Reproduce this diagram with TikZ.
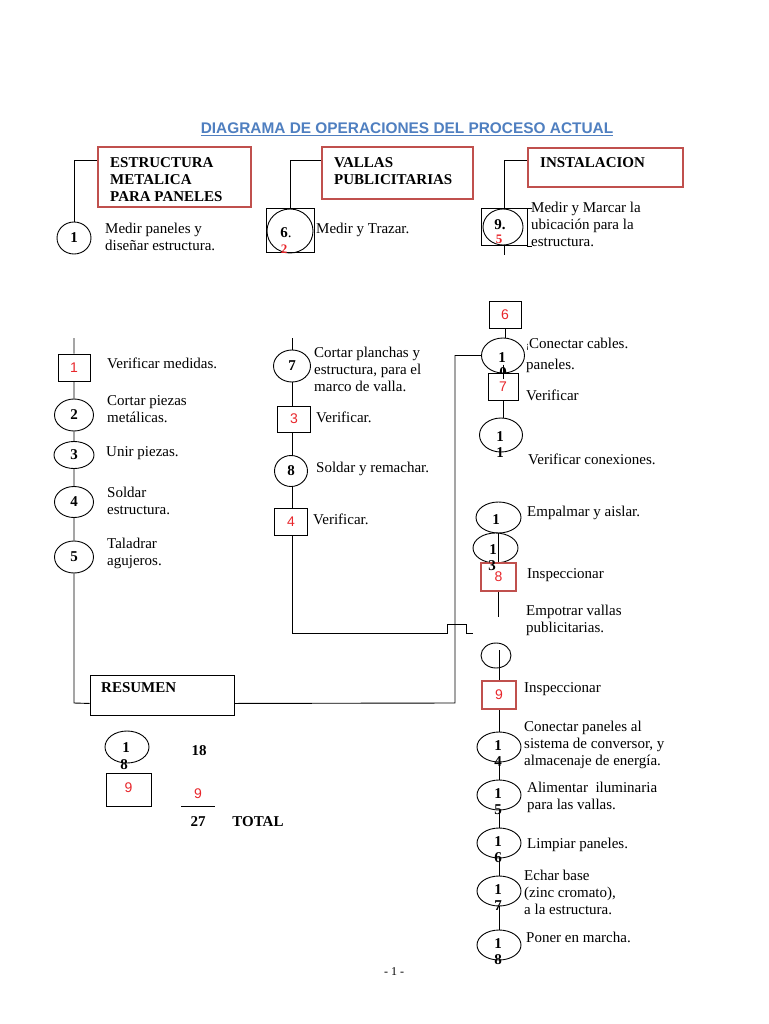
\documentclass[tikz,border=0pt]{standalone}
\usepackage{fontspec}
\setmainfont{Liberation Serif}
\newfontfamily\arialf{Liberation Sans}
\usetikzlibrary{shapes.geometric}
\definecolor{hdrred}{HTML}{C0504D}
\definecolor{numred}{HTML}{E8262B}
\definecolor{ttlblue}{HTML}{4F7FC0}
\begin{document}
\begin{tikzpicture}[x=1pt,y=-1pt,
  every node/.style={inner sep=0pt},
  ln/.style={line width=0.9pt},
  op/.style={ellipse, draw, line width=0.9pt, font=\bfseries\fontsize{15}{15}\selectfont},
  insp/.style={rectangle, draw, line width=0.9pt, minimum width=32pt, minimum height=27pt, font=\arialf\fontsize{14}{14}\selectfont, text=numred},
  inspr/.style={insp, draw=hdrred, line width=2.6pt},
  hbox/.style={rectangle, draw=hdrred, line width=2.6pt},
  htxt/.style={anchor=north west, align=left, font=\bfseries\fontsize{15}{17}\selectfont},
  lbl/.style={anchor=north west, align=left, font=\fontsize{15}{17}\selectfont},
  num/.style={font=\bfseries\fontsize{15}{15}\selectfont},
  rnum/.style={font=\bfseries\fontsize{13}{13}\selectfont, text=numred},
]
\useasboundingbox (0,0) rectangle (768,1024);
\fill[white] (0,0) rectangle (768,1024);

% title
\node[font=\arialf\bfseries\fontsize{15.4}{15.4}\selectfont, text=ttlblue] (title) at (407,128) {DIAGRAMA DE OPERACIONES DEL PROCESO ACTUAL};
\draw[ttlblue, line width=1.2pt] ([yshift=-2.5pt]title.base west) -- ([yshift=-2.5pt]title.base east);

% header boxes
\node[hbox, minimum width=153pt, minimum height=60pt] (h1) at (174.5,177) {};
\node[htxt] (h1t) at (110,155) {\strut ESTRUCTURA\\METALICA\\PARA PANELES};
\node[hbox, minimum width=151pt, minimum height=52pt] (h2) at (397.5,173) {};
\node[htxt] (h2t) at (334,155) {\strut VALLAS\\PUBLICITARIAS};
\node[hbox, minimum width=155pt, minimum height=39pt] (h3) at (605.5,167.5) {};
\node[htxt] (h3t) at (540,155) {\strut INSTALACION};

% first row
\node[op, minimum width=34pt, minimum height=32pt] (c1) at (74,238) {1};
\node[lbl] (t1) at (105,221) {\strut Medir paneles y\\diseñar estructura.};
\draw[ln] ([yshift=-15pt]h1.north west) -| (c1.north);

\node[draw, ln, minimum width=48pt, minimum height=44pt] (s6a) at (290,230) {};
\node[op, minimum width=46pt, minimum height=44pt] (c6) at (290,231) {};
\node[num] (n6) at (286,233) {6\mdseries.};
\node[rnum] (n6b) at (284,249) {2};
\node[lbl] (t6) at (316,221) {\strut Medir y Trazar.};
\draw[ln] ([yshift=-15pt]h2.north west) -| (s6a.north);

\node[draw, ln, minimum width=46pt, minimum height=37pt] (s95) at (504,227) {};
\node[op, minimum width=40pt, minimum height=36pt] (c95) at (503,227) {};
\node[num] (n95) at (500,225) {9.};
\node[rnum] (n95b) at (499,239) {5};
\draw[ln] (s95.north east) -- ++(5,0);
\draw[ln] (s95.south east) -- ++(5,0);
\draw[ln] ([yshift=-14pt]h3.north west) -| (s95.north);
\coordinate (tail) at (504,255);
\draw[ln] (s95.south) -- (tail);
\node[lbl] (t95) at (531,200) {\strut Medir y Marcar la\\ubicación para la\\estructura.};

% left column
\coordinate (L0) at (74,338);
\node[insp] (s1) at (74,367.5) {1};
\node[op, minimum width=39pt, minimum height=32pt] (c2) at (74,415) {2};
\node[op, minimum width=40pt, minimum height=27pt] (c3) at (74,455) {3};
\node[op, minimum width=39pt, minimum height=31pt] (c4) at (74,502) {4};
\node[op, minimum width=39pt, minimum height=32pt] (c5) at (74,557) {5};
\coordinate (L1) at (74,703);
\node[lbl] (ts1) at (107,356) {\strut Verificar medidas.};
\node[lbl] (tc2) at (107,393) {\strut Cortar piezas\\metálicas.};
\node[lbl] (tc3) at (106,444) {\strut Unir piezas.};
\node[lbl] (tc4) at (107,485) {\strut Soldar\\estructura.};
\node[lbl] (tc5) at (107,536) {\strut Taladrar\\agujeros.};

% resumen
\node[draw, ln, minimum width=144pt, minimum height=40pt] (res) at (162,695) {};
\node[font=\bfseries\fontsize{15}{15}\selectfont, anchor=west] (rest) at (101,688) {RESUMEN};
\draw[ln] (L0) -- (s1) -- (c2) -- (c3) -- (c4) -- (c5) -- (L1) -- ([yshift=12pt]res.south west);

% middle column
\coordinate (M0) at (292,338);
\node[op, minimum width=37pt, minimum height=32pt] (c7) at (292,366) {7};
\node[insp, minimum width=33pt, minimum height=26pt] (s3) at (294,419) {3};
\node[op, minimum width=33pt, minimum height=31pt] (c8) at (291,471) {8};
\node[insp, minimum width=33pt, minimum height=27pt] (s4) at (291,521.5) {4};
\coordinate (M1) at (292,633);
\coordinate (B1) at (447,633);
\coordinate (B2) at (447,624);
\coordinate (B3) at (466,624);
\coordinate (B4) at (466,633);
\coordinate (B5) at (473,633);
\draw[ln] (M0) -- (M0 |- c7.north);
\draw[ln] (c7.south -| M0) -- (s3.north -| M0);
\draw[ln] (s3.south -| M0) -- (c8.north -| M0);
\draw[ln] (c8.south -| M0) -- (s4.north -| M0);
\draw[ln] (s4.south -| M0) -- (M1) -- (B1) -- (B2) -- (B3) -- (B4) -- (B5);
\node[lbl] (tc7) at (314,345) {\strut Cortar planchas y\\estructura, para el\\marco de valla.};
\node[lbl] (ts3) at (316,410) {\strut Verificar.};
\node[lbl] (tc8) at (316,460) {\strut Soldar y remachar.};
\node[lbl] (ts4) at (313,512) {\strut Verificar.};

% right column
\node[insp] (s6) at (505,315) {6};
\node[op, minimum width=43pt, minimum height=35pt] (c10) at (503,355.5) {};
\node[num] (n10a) at (502,358) {1};
\node[num] (n10b) at (503,373) {0};
\node[insp, fill=white, minimum width=30pt, minimum height=27pt] (s7) at (503,386.5) {7};
\draw[ln] (s6.south) -- (s6.south |- c10.north);
\draw[ln] ([yshift=-9pt]c10.center) -- ([yshift=-6pt]s7.north);
\node[op, minimum width=43pt, minimum height=34pt] (c11) at (501,435) {};
\node[num] (n11a) at (500,437) {1};
\node[num] (n11b) at (500,453) {1};
\draw[ln] (s7.south) -- (s7.south |- c11.north);
\node[lbl] (tc10) at (526,336) {\strut{\fontsize{9}{9}\selectfont ¡}Conectar cables.};
\node[lbl] (tc10b) at (526,357) {\strut paneles.};
\node[lbl] (ts7) at (526,388) {\strut Verificar};
\node[lbl] (tc11) at (528,452) {\strut Verificar conexiones.};

\coordinate (J) at (455,703);
\draw[ln] ([yshift=12pt]res.south east) -- (J) |- (c10.west);

\node[op, minimum width=45pt, minimum height=31pt] (c12) at (498.5,517.5) {};
\node[num] (n12a) at (496,520) {1};
\node[op, fill=white, minimum width=45pt, minimum height=30pt] (c13) at (495.5,548) {};
\node[num] (n13a) at (493,550) {1};
\node[inspr, minimum width=35pt, minimum height=28pt] (s8) at (498.5,577) {8};
\node[num] (n13b) at (492,566) {3};
\draw[ln] (c12.south) -- (c12.south |- s8.north);
\coordinate (E1) at (498.5,617);
\draw[ln] (s8.south) -- (E1);
\node[lbl] (tc12) at (527,504) {\strut Empalmar y aislar.};
\node[lbl] (ts8) at (527,566) {\strut Inspeccionar};
\node[lbl] (te) at (526,603) {\strut Empotrar vallas\\publicitarias.};

\node[op, minimum width=30pt, minimum height=25pt] (ce) at (496,655.5) {};
\node[inspr, minimum width=34pt, minimum height=28pt] (s9r) at (499,695) {9};
\coordinate (ceIn) at (499,650);
\draw[ln] (ceIn) -- (ceIn |- s9r.north);
\node[lbl] (ts9) at (524,680) {\strut Inspeccionar};

\foreach \n/\y/\d in {14/747/4, 15/795/5, 16/843/6, 17/891/7, 18/945/8}{
  \node[op, minimum width=44pt, minimum height=30pt] (c\n) at (499,\y) {};
  \node[num] (n\n a) at (498,\y-1) {1};
  \node[num] (n\n b) at (498,\y+15) {\d};
}
\draw[ln] (s9r) -- (c14) -- (c15) -- (c16) -- (c17) -- (c18);
\node[lbl] (tc14) at (524,719) {\strut Conectar paneles al\\sistema de conversor, y\\almacenaje de energía.};
\node[lbl] (tc15) at (527,780) {\strut Alimentar\ \ iluminaria\\para las vallas.};
\node[lbl] (tc16) at (527,836) {\strut Limpiar paneles.};
\node[lbl] (tc17) at (524,868) {\strut Echar base\\(zinc cromato),\\a la estructura.};
\node[lbl] (tc18) at (526,930) {\strut Poner en marcha.};

% summary
\node[op, minimum width=44pt, minimum height=32pt] (cs) at (127,747) {};
\node[num] (ns1) at (126,748) {1};
\node[num] (ns2) at (124,765) {8};
\node[insp, minimum width=45pt, minimum height=33pt] (ss) at (128.5,789.5) {\raisebox{3pt}{9}};
\node[num] (n18) at (199,751) {18};
\node[font=\arialf\fontsize{14}{14}\selectfont, text=numred] (n9) at (198,794) {9};
\coordinate (SL0) at (181,806);
\coordinate (SL1) at (215,806);
\draw[ln] (SL0) -- (SL1);
\node[num] (n27) at (198,822) {27};
\node[num] (ntot) at (258,822) {TOTAL};

\node[font=\fontsize{12}{12}\selectfont] (pg) at (394,972) {- 1 -};
\end{tikzpicture}
\end{document}
